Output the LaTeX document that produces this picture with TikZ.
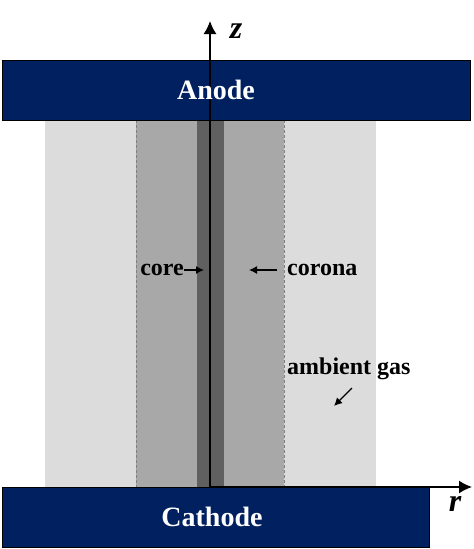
\documentclass[tikz,border=0pt]{standalone}
\usepackage{fontspec}
\setmainfont{Liberation Serif}
\usepackage{pgf,tikz}
\usetikzlibrary{arrows,arrows.meta}
\definecolor{plate}{RGB}{0,32,96}
\definecolor{ambientgray}{RGB}{220,220,220}
\definecolor{coronagray}{RGB}{168,168,168}
\definecolor{coregray}{RGB}{96,96,96}

\begin{document}
\begin{tikzpicture}[x=1pt,y=-1pt,
	platetext/.style={text=white,font=\fontsize{28}{30}\selectfont\bfseries},
	lbl/.style={font=\fontsize{24}{26}\selectfont\bfseries,inner sep=0pt},
	axlbl/.style={font=\fontsize{32}{34}\selectfont\bfseries\itshape,inner sep=0pt},
	axis/.style={line width=1.5pt,-{Latex[length=13pt,width=13pt]}},
	pointer/.style={line width=1.3pt,-{Latex[length=8pt,width=8pt]}}]
	\useasboundingbox (0,0) rectangle (474,549);
	% regions
	\draw[fill=ambientgray,draw=none] (45,120) rectangle (376,487);
	\draw[fill=coronagray,draw=none] (136,120) rectangle (284,487);
	\draw[gray,densely dashed,thin] (136,120) -- (136,487);
	\draw[gray,densely dashed,thin] (284,120) -- (284,487);
	\draw[fill=coregray,draw=none] (197,120) rectangle (224,487);
	% electrodes
	\draw[fill=plate,thick] (2,60) rectangle (470,120);
	\draw[fill=plate,thick] (2,487) rectangle (429,547);
	% axes
	\coordinate (O) at (210,487);
	\coordinate (ztip) at (210,21);
	\coordinate (rtip) at (472,487);
	\draw[axis] (O) -- (ztip);
	\draw[axis] (O) -- (rtip);
	\node[axlbl] (z) at (236,31) {z};
	\node[axlbl] (r) at (455,504) {r};
	\node[platetext] (anode) at (216,90) {Anode};
	\node[platetext] (cathode) at (212,517) {Cathode};
	% labels
	\node[lbl,anchor=east] (core) at (184,270) {core};
	\coordinate (coretip) at (204,270);
	\draw[pointer] (core) -- (coretip);
	\node[lbl,anchor=west] (corona) at (287,270) {corona};
	\coordinate (coronatip) at (249,270);
	\draw[pointer,shorten <=10pt] (corona) -- (coronatip);
	\node[lbl,anchor=west] (ambient) at (287,369) {ambient gas};
	\coordinate (ambienttail) at (352,388);
	\coordinate (ambienttip) at (334,406);
	\draw[pointer] (ambienttail) -- (ambienttip);
\end{tikzpicture}
\end{document}
